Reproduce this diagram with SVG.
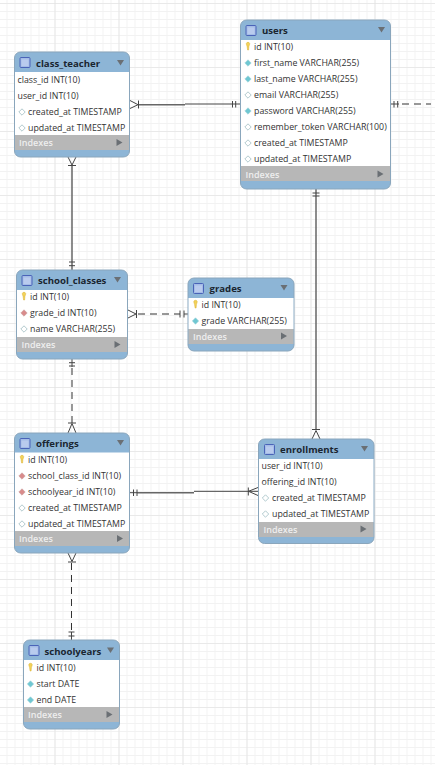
<svg xmlns="http://www.w3.org/2000/svg" width="435" height="765" viewBox="0 0 435 765">
<style>
text{font-family:"Open Sans","Noto Sans","DejaVu Sans",sans-serif;font-size:8.8px;fill:#333333;dominant-baseline:central}
.title{font-size:9.6px;font-weight:700;fill:#1a2530}
.idx{fill:#eeeeee;font-size:9px;font-weight:600}
.frame{fill:#8db5d6;stroke:#8aa6bc;stroke-width:1}
.body{fill:#ffffff}
.indexbar{fill:#b7b7b7}
.tri{fill:#6a6f74}
.c{fill:none;stroke:#444;stroke-width:1}
.g{fill:none;stroke:#666;stroke-width:1.5}
.d{fill:none;stroke:#333;stroke-width:1;stroke-dasharray:7 5}
</style>
<defs>
<pattern id="minor" width="8" height="8" patternUnits="userSpaceOnUse" x="-0.5" y="4">
<path d="M7.5 0V8M0 7.5H8" stroke="#f2f2f2" stroke-width="1" fill="none"/>
</pattern>
<pattern id="major" width="64" height="64" patternUnits="userSpaceOnUse" x="-8.5" y="4">
<path d="M64 0V64M0 64H64" stroke="#e0e0e0" stroke-width="1.2" fill="none"/>
</pattern>
<g id="tbl"><rect x="0.5" y="0.5" width="10" height="10" rx="1" fill="#a4bce6" stroke="#4a63b8"/><rect x="2" y="2.500" width="7" height="6.500" fill="#b9cbee"/></g>
<path id="key" d="M-1.7 -3.5a1.8 1.8 0 0 1 3.4 0c0 1.5-.6 2-.8 3l-.3 3.5h-1l-.5-3.5c-.2-1-.8-1.5-.8-3z" fill="#f2d25a" stroke="#d9ae2c" stroke-width=".5"/>
<path id="dt" d="M0-3.2L3.2 0L0 3.2L-3.2 0Z" fill="#6fc7d2" stroke="#9fd3da" stroke-width=".6"/>
<path id="de" d="M0-3.2L3.2 0L0 3.2L-3.2 0Z" fill="#ffffff" stroke="#a9c4c8" stroke-width=".9"/>
<path id="dr" d="M0-3.2L3.2 0L0 3.2L-3.2 0Z" fill="#d98b8b" stroke="#c8a0a0" stroke-width=".6"/>
<path id="dn" d="M-3.5-2.5H3.5L0 3Z" class="tri"/>
<path id="rt" d="M-3-3.5L3 0L-3 3.5Z" class="tri"/>
</defs>
<rect width="435" height="765" fill="#ffffff"/>
<rect width="435" height="765" fill="url(#minor)"/>
<rect width="435" height="765" fill="url(#major)"/>

<g id="connectors">
<path class="g" d="M138 104.700H185"/><path class="c" d="M185 104H240M232.500 101V107.500M235.700 101V107.500M138.500 100.500V108.500M130 100.500L138 104.700L130 108.500"/>
<path class="g" d="M72 165V270"/><path class="c" d="M68 165.500H76M68 157L72 165M76 157L72 165M69 262H75M69 265.700H75"/>
<path class="g" d="M316 189V430"/><path class="c" d="M312.500 193H319.500M312.500 196H319.500M312 429.500H320M312 439L316 430.500L320 439"/>
<path class="c" d="M391 104H399M394 101V107.500M397.700 101V107.500"/><path class="d" d="M402 104H431"/>
<path class="c" d="M128 310L136 314L128 318M136.500 310V318M180 310.500V317.500M184 310.500V317.500M184 314H188"/><path class="d" d="M138 314H180"/>
<path class="c" d="M69 362.700H75M69 366H75M68 423H76M68 433L72 423.500L76 433M72 359V367"/><path class="d" d="M72 368V423"/>
<path class="g" d="M137 492.700H194"/><path class="c" d="M130 492.700H137M133.500 489.500V496M137 489.500V496M194 491.300H258M248.300 487.500V495.500M258 487.500L248.500 491.300L258 495.500"/>
<path class="c" d="M68 553L72 561.500L76 553M68 562H76M68.500 632H74.500M68.500 636H74.500M71.500 632V640"/><path class="d" d="M71.500 563V632"/>
</g>

<g id="class_teacher" transform="translate(14.500 52)">
<rect class="frame" width="115" height="105" rx="6"/><rect class="body" x=".5" y="20" width="114" height="63"/><rect class="indexbar" x=".5" y="83" width="114" height="15"/>
<use href="#tbl" x="5" y="5"/><text class="title" x="21.500" y="11">class_teacher</text><use href="#dn" x="106" y="10.500"/>
<text x="3" y="28">class_id INT(10)</text><text x="3" y="44">user_id INT(10)</text>
<use href="#de" x="7.500" y="60"/><text x="13.500" y="60">created_at TIMESTAMP</text>
<use href="#de" x="7.500" y="76"/><text x="13.500" y="76">updated_at TIMESTAMP</text>
<text class="idx" x="4.500" y="90">Indexes</text><use href="#rt" x="105" y="90.500"/>
</g>

<g id="users" transform="translate(240.500 20)">
<rect class="frame" width="150" height="169" rx="6"/><rect class="body" x=".5" y="20" width="149" height="126"/><rect class="indexbar" x=".5" y="146" width="149" height="15"/>
<use href="#tbl" x="5" y="5"/><text class="title" x="21.500" y="10">users</text><use href="#dn" x="141" y="9.500"/>
<use href="#key" x="7.500" y="27"/><text x="13.500" y="27">id INT(10)</text>
<use href="#dt" x="7.500" y="43"/><text x="13.500" y="43">first_name VARCHAR(255)</text>
<use href="#dt" x="7.500" y="59"/><text x="13.500" y="59">last_name VARCHAR(255)</text>
<use href="#de" x="7.500" y="75"/><text x="13.500" y="75">email VARCHAR(255)</text>
<use href="#dt" x="7.500" y="91"/><text x="13.500" y="91">password VARCHAR(255)</text>
<use href="#de" x="7.500" y="107"/><text x="13.500" y="107">remember_token VARCHAR(100)</text>
<use href="#de" x="7.500" y="123"/><text x="13.500" y="123">created_at TIMESTAMP</text>
<use href="#de" x="7.500" y="139"/><text x="13.500" y="139">updated_at TIMESTAMP</text>
<text class="idx" x="5" y="154">Indexes</text><use href="#rt" x="140" y="154"/>
</g>

<g id="school_classes" transform="translate(16.500 270)">
<rect class="frame" width="111" height="89" rx="6"/><rect class="body" x=".5" y="20" width="110" height="47"/><rect class="indexbar" x=".5" y="67" width="110" height="15"/>
<use href="#tbl" x="5" y="5"/><text class="title" x="21.500" y="10">school_classes</text><use href="#dn" x="101" y="9.500"/>
<use href="#key" x="7.500" y="27"/><text x="13.500" y="27">id INT(10)</text>
<use href="#dr" x="7.500" y="43"/><text x="13.500" y="43">grade_id INT(10)</text>
<use href="#de" x="7.500" y="59"/><text x="13.500" y="59">name VARCHAR(255)</text>
<text class="idx" x="5" y="74">Indexes</text><use href="#rt" x="101" y="74.500"/>
</g>

<g id="grades" transform="translate(188 278)">
<rect class="frame" width="106" height="73" rx="6"/><rect class="body" x=".5" y="20" width="105" height="31"/><rect class="indexbar" x=".5" y="51" width="105" height="15"/>
<use href="#tbl" x="5" y="5"/><text class="title" x="21.500" y="10">grades</text><use href="#dn" x="96" y="9.500"/>
<use href="#key" x="7.500" y="27"/><text x="13.500" y="27">id INT(10)</text>
<use href="#dt" x="7.500" y="43"/><text x="13.500" y="43">grade VARCHAR(255)</text>
<text class="idx" x="5" y="58">Indexes</text><use href="#rt" x="96" y="58"/>
</g>

<g id="offerings" transform="translate(14.500 433)">
<rect class="frame" width="115" height="120" rx="6"/><rect class="body" x=".5" y="19.500" width="114" height="79"/><rect class="indexbar" x=".5" y="98" width="114" height="15"/>
<use href="#tbl" x="5" y="5"/><text class="title" x="21.500" y="10">offerings</text><use href="#dn" x="106" y="9.500"/>
<use href="#key" x="7.500" y="27"/><text x="13.500" y="27">id INT(10)</text>
<use href="#dr" x="7.500" y="43"/><text x="13.500" y="43">school_class_id INT(10)</text>
<use href="#dr" x="7.500" y="59"/><text x="13.500" y="59">schoolyear_id INT(10)</text>
<use href="#de" x="7.500" y="75"/><text x="13.500" y="75">created_at TIMESTAMP</text>
<use href="#de" x="7.500" y="91"/><text x="13.500" y="91">updated_at TIMESTAMP</text>
<text class="idx" x="4.500" y="105.500">Indexes</text><use href="#rt" x="105.500" y="105.500"/>
</g>

<g id="enrollments" transform="translate(258.500 439)">
<rect class="frame" width="115.500" height="104.500" rx="6"/><rect class="body" x=".5" y="20" width="114.500" height="63"/><rect class="indexbar" x=".5" y="83" width="114.500" height="15"/>
<use href="#tbl" x="5.500" y="5"/><text class="title" x="21.500" y="10">enrollments</text><use href="#dn" x="106" y="9.500"/>
<text x="3" y="27">user_id INT(10)</text><text x="3" y="43">offering_id INT(10)</text>
<use href="#de" x="7" y="59"/><text x="13.500" y="59">created_at TIMESTAMP</text>
<use href="#de" x="7" y="75"/><text x="13.500" y="75">updated_at TIMESTAMP</text>
<text class="idx" x="5" y="90">Indexes</text><use href="#rt" x="105" y="90"/>
</g>

<g id="schoolyears" transform="translate(23.500 640)">
<rect class="frame" width="96" height="89" rx="6"/><rect class="body" x=".5" y="20" width="95" height="47"/><rect class="indexbar" x=".5" y="67" width="95" height="15"/>
<use href="#tbl" x="5" y="5"/><text class="title" x="21" y="11">schoolyears</text><use href="#dn" x="87" y="10"/>
<use href="#key" x="7" y="28"/><text x="13" y="28">id INT(10)</text>
<use href="#dt" x="7" y="44"/><text x="13" y="44">start DATE</text>
<use href="#dt" x="7" y="60"/><text x="13" y="60">end DATE</text>
<text class="idx" x="4.500" y="74">Indexes</text><use href="#rt" x="86" y="74.500"/>
</g>
</svg>
